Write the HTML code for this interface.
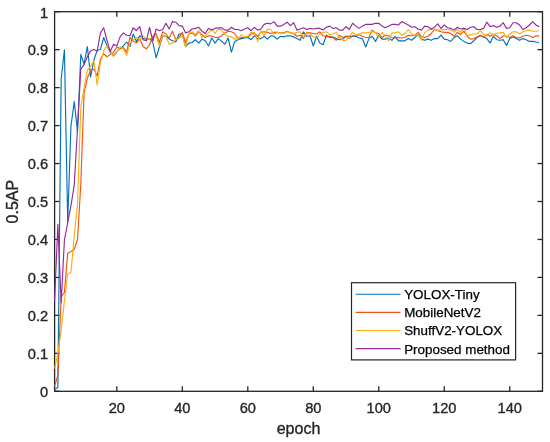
<!DOCTYPE html>
<html><head><meta charset="utf-8"><title>0.5AP vs epoch</title>
<style>
html,body{margin:0;padding:0;background:#fff;}
body{width:550px;height:442px;overflow:hidden;}
svg{display:block;}
text{font-family:"Liberation Sans",sans-serif;fill:#262626;}
.tk{font-size:14.67px;stroke:#262626;stroke-width:0.35px;}
.lb{font-size:16px;stroke:#262626;stroke-width:0.35px;}
.lg{font-size:13.4px;fill:#000;stroke:#000;stroke-width:0.25px;}
</style></head><body>
<svg width="550" height="442" viewBox="0 0 550 442">
<rect x="0" y="0" width="550" height="442" fill="#fff"/>

<g stroke="#262626" stroke-width="1.30" fill="none">
<rect x="54.60" y="11.70" width="487.90" height="379.60"/>
<line x1="116.82" y1="391.30" x2="116.82" y2="386.30"/>
<line x1="116.82" y1="11.70" x2="116.82" y2="16.70"/>
<line x1="182.31" y1="391.30" x2="182.31" y2="386.30"/>
<line x1="182.31" y1="11.70" x2="182.31" y2="16.70"/>
<line x1="247.80" y1="391.30" x2="247.80" y2="386.30"/>
<line x1="247.80" y1="11.70" x2="247.80" y2="16.70"/>
<line x1="313.29" y1="391.30" x2="313.29" y2="386.30"/>
<line x1="313.29" y1="11.70" x2="313.29" y2="16.70"/>
<line x1="378.78" y1="391.30" x2="378.78" y2="386.30"/>
<line x1="378.78" y1="11.70" x2="378.78" y2="16.70"/>
<line x1="444.27" y1="391.30" x2="444.27" y2="386.30"/>
<line x1="444.27" y1="11.70" x2="444.27" y2="16.70"/>
<line x1="509.76" y1="391.30" x2="509.76" y2="386.30"/>
<line x1="509.76" y1="11.70" x2="509.76" y2="16.70"/>
<line x1="54.60" y1="391.30" x2="59.60" y2="391.30"/>
<line x1="542.50" y1="391.30" x2="537.50" y2="391.30"/>
<line x1="54.60" y1="353.34" x2="59.60" y2="353.34"/>
<line x1="542.50" y1="353.34" x2="537.50" y2="353.34"/>
<line x1="54.60" y1="315.38" x2="59.60" y2="315.38"/>
<line x1="542.50" y1="315.38" x2="537.50" y2="315.38"/>
<line x1="54.60" y1="277.42" x2="59.60" y2="277.42"/>
<line x1="542.50" y1="277.42" x2="537.50" y2="277.42"/>
<line x1="54.60" y1="239.46" x2="59.60" y2="239.46"/>
<line x1="542.50" y1="239.46" x2="537.50" y2="239.46"/>
<line x1="54.60" y1="201.50" x2="59.60" y2="201.50"/>
<line x1="542.50" y1="201.50" x2="537.50" y2="201.50"/>
<line x1="54.60" y1="163.54" x2="59.60" y2="163.54"/>
<line x1="542.50" y1="163.54" x2="537.50" y2="163.54"/>
<line x1="54.60" y1="125.58" x2="59.60" y2="125.58"/>
<line x1="542.50" y1="125.58" x2="537.50" y2="125.58"/>
<line x1="54.60" y1="87.62" x2="59.60" y2="87.62"/>
<line x1="542.50" y1="87.62" x2="537.50" y2="87.62"/>
<line x1="54.60" y1="49.66" x2="59.60" y2="49.66"/>
<line x1="542.50" y1="49.66" x2="537.50" y2="49.66"/>
<line x1="54.60" y1="11.70" x2="59.60" y2="11.70"/>
<line x1="542.50" y1="11.70" x2="537.50" y2="11.70"/>
</g>
<clipPath id="c"><rect x="53.90" y="11.00" width="489.30" height="381.00"/></clipPath>
<g clip-path="url(#c)" fill="none" stroke-width="1.15" stroke-linejoin="round" stroke-linecap="butt">
<polyline stroke="#0072BD" points="54.60,389.50 57.87,387.60 61.15,79.30 64.42,49.90 67.70,222.00 70.97,126.00 74.25,101.60 77.52,131.60 80.80,54.40 84.07,64.00 87.34,46.50 90.62,77.00 93.89,60.00 97.17,50.50 100.44,49.30 103.72,37.50 106.99,45.90 110.27,52.20 113.54,55.60 116.82,51.60 120.09,48.20 123.36,45.90 126.64,42.00 129.91,46.50 133.19,34.10 136.46,41.40 139.74,35.80 143.01,38.60 146.29,39.10 149.56,38.60 152.83,42.50 156.11,57.80 159.38,47.00 162.66,35.80 165.93,36.30 169.21,39.10 172.48,40.80 175.76,42.00 179.03,34.00 182.31,33.50 185.58,46.50 188.85,43.10 192.13,42.50 195.40,39.70 198.68,43.10 201.95,39.10 205.23,40.80 208.50,46.00 211.78,38.00 215.05,43.10 218.32,38.60 221.60,41.40 224.87,44.20 228.15,38.00 231.42,52.20 234.70,41.40 237.97,39.70 241.25,38.60 244.52,38.00 247.80,37.50 251.07,39.70 254.34,35.80 257.62,38.60 260.89,38.60 264.17,36.30 267.44,39.10 270.72,35.80 273.99,36.30 277.27,39.10 280.54,36.30 283.81,36.90 287.09,35.80 290.36,35.80 293.64,36.90 296.91,38.60 300.19,40.30 303.46,31.80 306.74,36.30 310.01,35.80 313.29,46.00 316.56,36.30 319.83,43.10 323.11,44.80 326.38,35.20 329.66,37.50 332.93,36.90 336.21,38.60 339.48,39.70 342.76,39.10 346.03,36.30 349.30,36.30 352.58,36.30 355.85,36.30 359.13,38.00 362.40,38.60 365.68,47.00 368.95,38.60 372.23,36.30 375.50,41.40 378.78,35.20 382.05,39.10 385.32,39.10 388.60,38.00 391.87,40.30 395.15,36.30 398.42,40.80 401.70,40.80 404.97,40.80 408.25,38.60 411.52,40.30 414.79,37.50 418.07,34.60 421.34,39.10 424.62,40.30 427.89,39.10 431.17,40.30 434.44,38.60 437.72,38.60 440.99,35.20 444.27,39.10 447.54,39.70 450.81,41.40 454.09,37.50 457.36,35.80 460.64,39.10 463.91,41.40 467.19,43.10 470.46,43.70 473.74,40.80 477.01,37.50 480.28,35.80 483.56,36.90 486.83,38.60 490.11,43.10 493.38,36.30 496.66,39.70 499.93,40.30 503.21,39.70 506.48,45.40 509.76,38.60 513.03,36.90 516.30,38.60 519.58,40.30 522.85,38.60 526.13,39.70 529.40,41.40 532.68,41.40 535.95,42.00 539.23,42.50"/>
<polyline stroke="#F05512" points="54.60,386.00 57.87,375.50 61.15,297.00 64.42,292.50 67.70,253.30 70.97,251.50 74.25,249.50 77.52,239.50 80.80,184.00 84.07,93.00 87.34,78.20 90.62,70.30 93.89,69.10 97.17,75.90 100.44,59.00 103.72,53.90 106.99,56.70 110.27,54.40 113.54,52.20 116.82,47.10 120.09,48.80 123.36,47.60 126.64,52.20 129.91,37.50 133.19,40.80 136.46,43.10 139.74,38.60 143.01,46.50 146.29,48.80 149.56,44.80 152.83,36.30 156.11,33.50 159.38,42.50 162.66,31.80 165.93,34.00 169.21,38.00 172.48,31.20 175.76,39.70 179.03,37.50 182.31,32.40 185.58,42.50 188.85,34.00 192.13,32.90 195.40,35.80 198.68,31.80 201.95,34.60 205.23,37.50 208.50,35.80 211.78,36.00 215.05,37.50 218.32,37.50 221.60,35.80 224.87,32.90 228.15,31.20 231.42,31.80 234.70,33.50 237.97,38.60 241.25,37.50 244.52,37.50 247.80,37.50 251.07,34.00 254.34,33.50 257.62,36.30 260.89,32.40 264.17,31.80 267.44,32.40 270.72,33.50 273.99,32.40 277.27,32.40 280.54,32.90 283.81,32.90 287.09,31.20 290.36,32.90 293.64,33.50 296.91,36.30 300.19,35.20 303.46,38.60 306.74,32.40 310.01,32.90 313.29,33.50 316.56,34.00 319.83,31.80 323.11,35.80 326.38,36.90 329.66,36.30 332.93,37.50 336.21,40.30 339.48,35.20 342.76,37.50 346.03,36.30 349.30,38.60 352.58,35.80 355.85,35.80 359.13,34.60 362.40,36.30 365.68,37.50 368.95,37.50 372.23,30.10 375.50,32.90 378.78,33.50 382.05,37.50 385.32,35.00 388.60,35.80 391.87,37.50 395.15,38.00 398.42,37.50 401.70,38.00 404.97,37.50 408.25,35.20 411.52,35.80 414.79,35.20 418.07,32.40 421.34,36.30 424.62,37.50 427.89,36.30 431.17,33.50 434.44,29.50 437.72,30.70 440.99,31.80 444.27,32.40 447.54,32.40 450.81,33.50 454.09,36.30 457.36,32.40 460.64,34.60 463.91,31.20 467.19,36.30 470.46,39.10 473.74,38.60 477.01,36.90 480.28,35.20 483.56,36.90 486.83,34.60 490.11,36.30 493.38,34.60 496.66,35.80 499.93,38.60 503.21,35.80 506.48,36.30 509.76,37.50 513.03,35.80 516.30,37.50 519.58,38.00 522.85,36.30 526.13,35.20 529.40,35.80 532.68,37.50 535.95,35.80 539.23,35.80"/>
<polyline stroke="#F8B010" points="54.60,368.70 57.87,353.00 61.15,331.00 64.42,301.00 67.70,274.00 70.97,272.50 74.25,235.00 77.52,204.00 80.80,107.00 84.07,88.00 87.34,70.30 90.62,66.30 93.89,60.70 97.17,85.00 100.44,62.40 103.72,51.00 106.99,45.40 110.27,51.00 113.54,56.70 116.82,51.60 120.09,47.10 123.36,48.80 126.64,55.60 129.91,43.70 133.19,40.30 136.46,37.50 139.74,39.70 143.01,35.80 146.29,39.10 149.56,38.60 152.83,38.00 156.11,36.30 159.38,46.00 162.66,35.20 165.93,36.30 169.21,44.20 172.48,43.10 175.76,39.10 179.03,38.60 182.31,35.20 185.58,47.00 188.85,33.50 192.13,31.80 195.40,34.60 198.68,30.70 201.95,37.50 205.23,35.80 208.50,32.90 211.78,29.30 215.05,33.50 218.32,29.00 221.60,30.10 224.87,34.60 228.15,36.30 231.42,36.90 234.70,39.10 237.97,39.10 241.25,34.60 244.52,36.90 247.80,36.30 251.07,32.40 254.34,32.40 257.62,41.40 260.89,30.70 264.17,35.80 267.44,29.00 270.72,29.50 273.99,34.00 277.27,32.40 280.54,32.90 283.81,33.50 287.09,31.80 290.36,32.40 293.64,33.50 296.91,32.40 300.19,31.80 303.46,36.30 306.74,32.90 310.01,34.00 313.29,36.90 316.56,38.00 319.83,34.00 323.11,32.40 326.38,31.80 329.66,34.60 332.93,34.00 336.21,32.40 339.48,37.50 342.76,40.30 346.03,40.30 349.30,35.80 352.58,32.40 355.85,35.20 359.13,34.00 362.40,32.90 365.68,32.90 368.95,32.40 372.23,31.80 375.50,32.40 378.78,37.50 382.05,32.40 385.32,36.00 388.60,40.80 391.87,32.90 395.15,32.90 398.42,31.80 401.70,35.20 404.97,33.50 408.25,29.50 411.52,34.00 414.79,35.20 418.07,34.60 421.34,40.30 424.62,32.40 427.89,30.10 431.17,29.50 434.44,29.00 437.72,30.10 440.99,30.10 444.27,29.30 447.54,29.50 450.81,30.10 454.09,32.40 457.36,29.00 460.64,32.40 463.91,27.80 467.19,35.80 470.46,34.60 473.74,34.00 477.01,34.00 480.28,30.70 483.56,34.60 486.83,35.80 490.11,32.90 493.38,34.60 496.66,33.20 499.93,32.90 503.21,32.40 506.48,37.50 509.76,34.00 513.03,31.80 516.30,31.80 519.58,34.00 522.85,31.80 526.13,30.70 529.40,30.10 532.68,31.20 535.95,31.20 539.23,30.70"/>
<polyline stroke="#932A9C" points="54.60,301.00 57.87,224.20 61.15,303.00 64.42,240.00 67.70,222.70 70.97,205.60 74.25,185.00 77.52,128.00 80.80,69.10 84.07,64.60 87.34,56.70 90.62,51.00 93.89,49.40 97.17,51.00 100.44,32.90 103.72,27.80 106.99,40.30 110.27,51.60 113.54,44.20 116.82,45.90 120.09,36.90 123.36,32.90 126.64,35.20 129.91,35.80 133.19,27.80 136.46,30.70 139.74,26.70 143.01,39.70 146.29,40.80 149.56,27.30 152.83,41.00 156.11,29.00 159.38,30.70 162.66,29.50 165.93,23.30 169.21,29.00 172.48,21.60 175.76,22.20 179.03,25.60 182.31,26.10 185.58,32.90 188.85,31.80 192.13,29.00 195.40,28.40 198.68,27.30 201.95,31.20 205.23,33.50 208.50,28.40 211.78,30.10 215.05,28.40 218.32,27.80 221.60,27.80 224.87,30.10 228.15,30.10 231.42,27.30 234.70,29.50 237.97,29.50 241.25,30.70 244.52,29.00 247.80,27.80 251.07,30.70 254.34,27.30 257.62,30.10 260.89,29.00 264.17,24.40 267.44,23.30 270.72,23.90 273.99,21.60 277.27,26.10 280.54,26.10 283.81,24.40 287.09,22.20 290.36,25.60 293.64,22.70 296.91,30.10 300.19,29.00 303.46,27.80 306.74,29.50 310.01,28.40 313.29,29.00 316.56,28.40 319.83,28.40 323.11,30.10 326.38,27.30 329.66,26.10 332.93,28.40 336.21,27.80 339.48,30.10 342.76,30.10 346.03,26.70 349.30,29.50 352.58,23.30 355.85,26.10 359.13,28.40 362.40,26.10 365.68,24.40 368.95,24.40 372.23,24.40 375.50,23.30 378.78,23.30 382.05,26.10 385.32,27.80 388.60,26.10 391.87,24.40 395.15,24.40 398.42,25.00 401.70,21.60 404.97,23.30 408.25,25.00 411.52,27.30 414.79,26.70 418.07,29.00 421.34,30.10 424.62,26.10 427.89,26.70 431.17,29.00 434.44,27.30 437.72,23.90 440.99,28.40 444.27,25.00 447.54,27.80 450.81,28.40 454.09,30.10 457.36,27.30 460.64,29.00 463.91,28.40 467.19,29.50 470.46,27.30 473.74,26.70 477.01,29.50 480.28,29.50 483.56,28.40 486.83,22.20 490.11,26.70 493.38,25.60 496.66,27.30 499.93,26.10 503.21,22.70 506.48,28.40 509.76,27.80 513.03,22.70 516.30,22.70 519.58,25.00 522.85,29.50 526.13,27.80 529.40,25.00 532.68,21.60 535.95,25.00 539.23,26.70"/>
</g>
<text class="tk" x="116.82" y="412.6" text-anchor="middle">20</text>
<text class="tk" x="182.31" y="412.6" text-anchor="middle">40</text>
<text class="tk" x="247.80" y="412.6" text-anchor="middle">60</text>
<text class="tk" x="313.29" y="412.6" text-anchor="middle">80</text>
<text class="tk" x="378.78" y="412.6" text-anchor="middle">100</text>
<text class="tk" x="444.27" y="412.6" text-anchor="middle">120</text>
<text class="tk" x="509.76" y="412.6" text-anchor="middle">140</text>
<text class="tk" x="48.2" y="397.10" text-anchor="end">0</text>
<text class="tk" x="48.2" y="359.14" text-anchor="end">0.1</text>
<text class="tk" x="48.2" y="321.18" text-anchor="end">0.2</text>
<text class="tk" x="48.2" y="283.22" text-anchor="end">0.3</text>
<text class="tk" x="48.2" y="245.26" text-anchor="end">0.4</text>
<text class="tk" x="48.2" y="207.30" text-anchor="end">0.5</text>
<text class="tk" x="48.2" y="169.34" text-anchor="end">0.6</text>
<text class="tk" x="48.2" y="131.38" text-anchor="end">0.7</text>
<text class="tk" x="48.2" y="93.42" text-anchor="end">0.8</text>
<text class="tk" x="48.2" y="55.46" text-anchor="end">0.9</text>
<text class="tk" x="48.2" y="17.50" text-anchor="end">1</text>
<text class="lb" x="298.5" y="434" text-anchor="middle">epoch</text>
<text class="lb" transform="translate(17.8,201.6) rotate(-90)" text-anchor="middle">0.5AP</text>
<rect x="351.5" y="282.7" width="164.1" height="77.2" fill="#fff" stroke="#262626" stroke-width="1.2"/>
<line x1="355.6" y1="294.25" x2="400.6" y2="294.25" stroke="#0072BD" stroke-width="1.15"/>
<text class="lg" x="404.2" y="299.25">YOLOX-Tiny</text>
<line x1="355.6" y1="312.35" x2="400.6" y2="312.35" stroke="#F05512" stroke-width="1.15"/>
<text class="lg" x="404.2" y="317.35">MobileNetV2</text>
<line x1="355.6" y1="330.45" x2="400.6" y2="330.45" stroke="#F8B010" stroke-width="1.15"/>
<text class="lg" x="404.2" y="335.45">ShuffV2-YOLOX</text>
<line x1="355.6" y1="348.55" x2="400.6" y2="348.55" stroke="#932A9C" stroke-width="1.15"/>
<text class="lg" x="404.2" y="353.55">Proposed method</text>
</svg></body></html>
